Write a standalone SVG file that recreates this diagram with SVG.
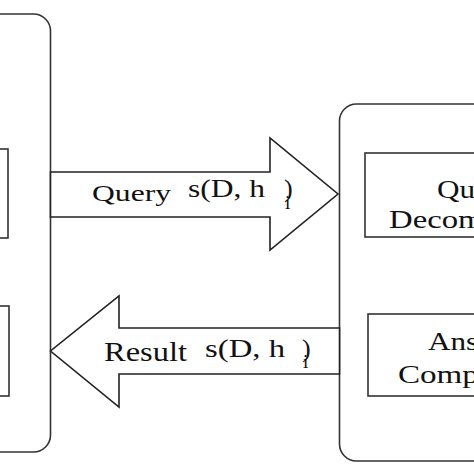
<svg xmlns="http://www.w3.org/2000/svg" width="474" height="474" viewBox="0 0 474 474">
<style>
.box{fill:#fff;stroke:#333;stroke-width:1.6}
.arrow{fill:#fff;stroke:#222;stroke-width:1.6;stroke-linejoin:miter}
text{font-family:"Liberation Serif","Times New Roman",serif;fill:#111}
</style>
<rect width="474" height="474" fill="#fff"/>
<g id="left-system">
<rect class="box" x="-60" y="14" width="110.5" height="438" rx="17"/>
<rect class="box" x="-100" y="149" width="108" height="89"/>
<rect class="box" x="-100" y="306" width="109" height="90"/>
</g>
<g id="right-system">
<rect class="box" x="339.5" y="104" width="200" height="357" rx="17"/>
<g id="query-decomposition">
<rect class="box" x="365" y="153" width="200" height="84"/>
<text x="437" y="198" font-size="26" textLength="78" lengthAdjust="spacingAndGlyphs">Query</text>
<text x="389" y="228" font-size="25" textLength="200" lengthAdjust="spacingAndGlyphs">Decomposition</text>
</g>
<g id="answer-composition">
<rect class="box" x="368" y="314" width="200" height="82"/>
<text x="428" y="350" font-size="26" textLength="97" lengthAdjust="spacingAndGlyphs">Answer</text>
<text x="398" y="383" font-size="26" textLength="171" lengthAdjust="spacingAndGlyphs">Composition</text>
</g>
</g>
<g id="connectors">
<g id="query-arrow">
<polygon class="arrow" points="50.5,172 270,172 270,138 338,194 270,250 270,217 50.5,217"/>
<text x="92" y="201" font-size="24" textLength="79" lengthAdjust="spacingAndGlyphs">Query</text>
<text x="188" y="197" font-size="26" textLength="77" lengthAdjust="spacingAndGlyphs">s(D, h</text>
<text x="284" y="197" font-size="26">)<tspan x="285" y="209" font-size="19">i</tspan></text>
</g>
<g id="result-arrow">
<polygon class="arrow" points="339.5,328 119,328 119,296 50.5,351 119,407 119,374 339.5,374"/>
<text x="104" y="361" font-size="27" textLength="83" lengthAdjust="spacingAndGlyphs">Result</text>
<text x="205" y="357" font-size="26" textLength="80" lengthAdjust="spacingAndGlyphs">s(D, h</text>
<text x="302" y="357" font-size="26">)<tspan x="303" y="368" font-size="19">i</tspan></text>
</g>
</g>
</svg>
